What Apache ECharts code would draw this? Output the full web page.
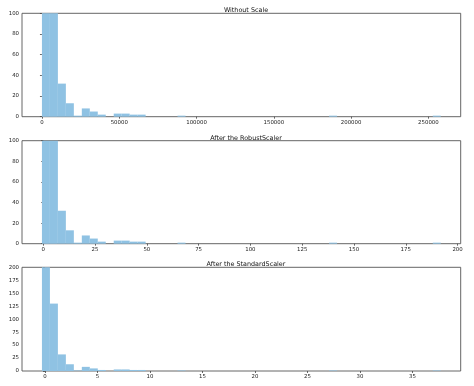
<!DOCTYPE html>
<html>
<head>
<meta charset="utf-8">
<script src="https://cdn.jsdelivr.net/npm/echarts@6/dist/echarts.min.js"></script>
<style>html,body{margin:0;padding:0;background:#fff}#c{width:474px;height:386px}</style>
</head>
<body>
<div id="c"></div>
<script>
// Histogram counts (50 bins), shared shape across the three panels
const counts = [260, 130, 32, 13, 1, 8, 5, 2, 0, 3, 3, 2, 2, 0, 0, 0, 0, 1, 0, 0,
                0, 0, 0, 0, 0, 0, 0, 0, 0, 0, 0, 0, 0, 0, 0, 0, 1, 0, 0, 0,
                0, 0, 0, 0, 0, 0, 0, 0, 0, 1];
const titles = ['Without Scale', 'After the RobustScaler', 'After the StandardScaler'];
// data range (min, max) of each panel
const dataMin = [0, -0.63, -0.29];
const dataMax = [258000, 191.9, 37.7];
const xTicks = [
  [0, 50000, 100000, 150000, 200000, 250000],
  [0, 25, 50, 75, 100, 125, 150, 175, 200],
  [0, 5, 10, 15, 20, 25, 30, 35]
];
const yMax = [100, 100, 200];
const yInterval = [20, 20, 25];

const gridTop = [13.3, 140.7, 267.3];
const gridH = [103.4, 103, 103.7];

const chart = echarts.init(document.getElementById('c'), null, {renderer: 'canvas'});
const grids = [], xAxes = [], yAxes = [], series = [], titleOpts = [];
for (let p = 0; p < 3; p++) {
  const mn = dataMin[p], mx = dataMax[p];
  const pad = 0.05 * (mx - mn);
  grids.push({left: 22, right: 13.3, top: gridTop[p], height: gridH[p], show: true,
    borderColor: '#555', borderWidth: 0.9, backgroundColor: 'transparent'});
  xAxes.push({type: 'value', gridIndex: p, min: mn - pad, max: mx + pad,
    splitLine: {show: false},
    axisLine: {show: false},
    axisTick: {show: true, length: 2, lineStyle: {color: '#444', width: 0.8}, customValues: xTicks[p]},
    axisLabel: {show: true, fontFamily: 'DejaVu Sans', fontSize: 5.4, color: '#222', margin: 3, customValues: xTicks[p],
      formatter: v => String(v)}
  });
  yAxes.push({type: 'value', gridIndex: p, min: 0, max: yMax[p], interval: yInterval[p],
    splitLine: {show: false},
    axisLine: {show: false},
    axisTick: {show: true, length: 2, lineStyle: {color: '#444', width: 0.8}},
    axisLabel: {fontFamily: 'DejaVu Sans', fontSize: 5.4, color: '#222', margin: 3}
  });
  const w = (mx - mn) / counts.length;
  const data = counts.map((c, i) => [mn + i * w, mn + (i + 1) * w, c]);
  series.push({
    type: 'custom', xAxisIndex: p, yAxisIndex: p, data: data,
    encode: {x: [0, 1], y: 2},
    renderItem: function (params, api) {
      const c = api.value(2);
      if (c <= 0) return null;
      const p0 = api.coord([api.value(0), 0]);
      const p1 = api.coord([api.value(1), c]);
      const shape = echarts.graphic.clipRectByRect({
        x: p0[0], y: p1[1], width: p1[0] - p0[0], height: p0[1] - p1[1]
      }, {
        x: params.coordSys.x, y: params.coordSys.y,
        width: params.coordSys.width, height: params.coordSys.height
      });
      if (!shape) return null;
      return {type: 'rect', shape: shape, style: {fill: '#8fc2e3', stroke: null}};
    }
  });
  titleOpts.push({text: titles[p], left: 241, textAlign: 'center', top: gridTop[p] - 10.5,
    textStyle: {fontFamily: 'DejaVu Sans', fontSize: 6.4, fontWeight: 'normal', color: '#111'}});
}
chart.setOption({
  animation: false,
  backgroundColor: '#fff',
  title: titleOpts,
  grid: grids, xAxis: xAxes, yAxis: yAxes, series: series
});
</script>
</body>
</html>
